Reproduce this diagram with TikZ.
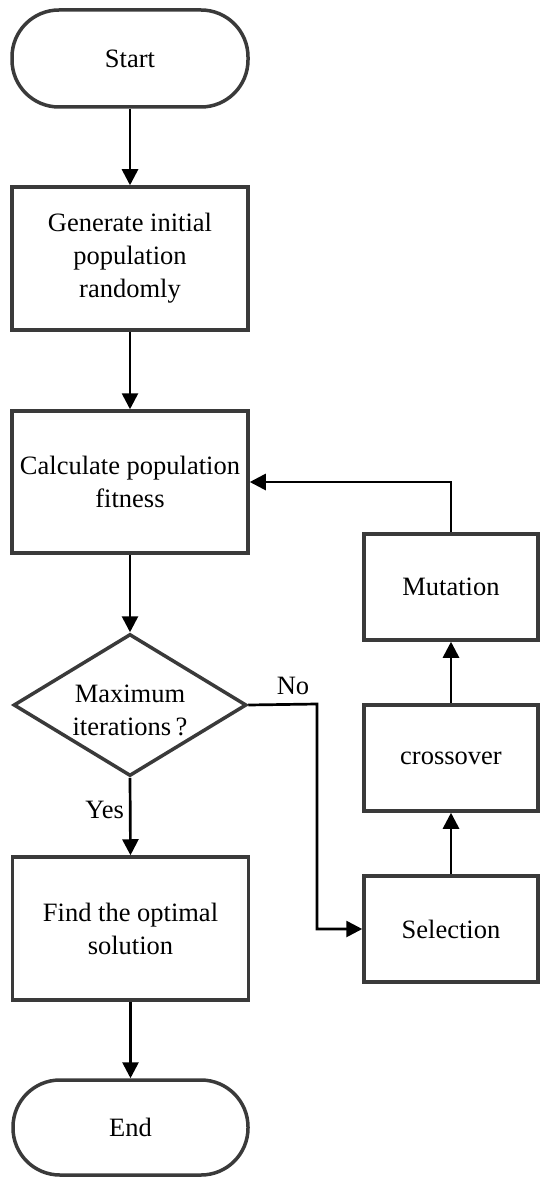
\documentclass[tikz,border=0pt]{standalone}
\usepackage{fontspec}
\setmainfont{Liberation Serif}
\usetikzlibrary{arrows.meta,shapes.geometric}
\definecolor{boxline}{HTML}{3A3A3A}
\begin{document}
\begin{tikzpicture}[x=1pt,y=-1pt,
  every node/.style={font=\fontsize{26.5}{33}\selectfont, align=center, inner sep=0pt},
  procbox/.style={draw=boxline, line width=3.5pt, rectangle, minimum width=236pt},
  termbox/.style={draw=boxline, line width=3.5pt, rectangle, rounded corners=47pt, minimum width=236pt},
  sidebox/.style={draw=boxline, line width=3.5pt, rectangle, minimum width=174pt, minimum height=106pt},
  decbox/.style={draw=boxline, line width=3.5pt, diamond, minimum width=233pt, minimum height=142pt},
  conn/.style={draw=black, line width=2.7pt, -{Triangle[width=16pt,length=16pt]}},
  lbl/.style={font=\fontsize{26.5}{33}\selectfont}
]
\useasboundingbox (0,0) rectangle (550,1185);

\node[termbox, minimum height=97pt] (start) at (130,58.5) {Start};
\node[procbox, minimum height=143pt] (gen) at (130,258.5) {Generate initial\\population\\randomly};
\node[procbox, minimum height=142pt] (calc) at (130,482) {Calculate population\\fitness};
\node[decbox] (dec) at (130,705) {};
\node (dectext) at (130,710) {Maximum\\iterations\,?};
\node[procbox, minimum height=143pt] (find) at (130.5,928.5) {Find the optimal\\solution};
\node[termbox, minimum width=235pt, minimum height=95pt] (end) at (130.5,1127.5) {End};

\node[sidebox] (mut) at (451,587) {Mutation};
\node[sidebox] (cross) at (451,758) {crossover};
\node[sidebox] (sel) at (451,929) {Selection};

\coordinate (nocorner) at (317,704);

\draw[conn] (start.south) -- (gen.north);
\draw[conn] (gen.south) -- (calc.north);
\draw[conn] (calc.south) -- (dec.north);
\draw[conn] (dec.south) -- node[lbl, pos=0.42, left=5pt] (yes) {Yes} (find.north);
\draw[conn] (find.south) -- (end.north);
\draw[conn] (dec.east) -- (nocorner) |- (sel.west);
\node[lbl] (no) at (293,686) {No};
\draw[conn] (sel.north) -- (cross.south);
\draw[conn] (cross.north) -- (mut.south);
\draw[conn] (mut.north) |- (calc.east);
\end{tikzpicture}
\end{document}
